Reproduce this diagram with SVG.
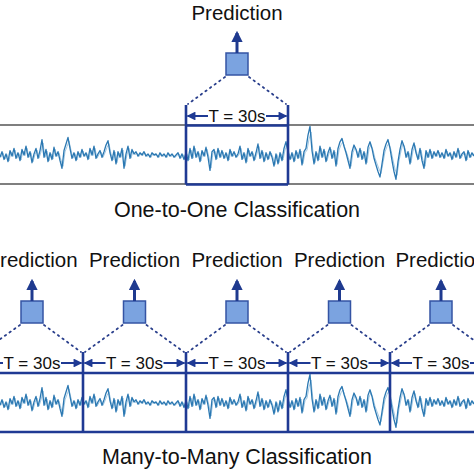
<svg xmlns="http://www.w3.org/2000/svg" xmlns:xlink="http://www.w3.org/1999/xlink" width="474" height="474" viewBox="0 0 474 474">
<style>
.lbl{font-family:"Liberation Sans",Arial,sans-serif;fill:#111;text-anchor:middle}
.pred{font-size:20.5px}
.title{font-size:21.5px}
.tt{font-size:17px}
.box{fill:#7ba3e0;stroke:#3454a4;stroke-width:1.5}
.up{stroke:#1f3a8f;stroke-width:3;fill:none}
.dot{stroke:#2a3f8c;stroke-width:1.8;stroke-dasharray:1.5 4.2;fill:none;stroke-linecap:round}
.frame{stroke:#1f3a94;stroke-width:2.6;fill:none}
.dim{stroke:#1f3a94;stroke-width:2;fill:none}
.gray{stroke:#555;stroke-width:1.4;fill:none}
.eeg{stroke:#2b78b2;stroke-width:1.3;fill:none;stroke-linejoin:round}
.eeg2{stroke:#5a9ccc;stroke-width:1;fill:none;stroke-linejoin:round;opacity:0.6}
</style>
<defs>
<marker id="ah" viewBox="0 0 10 10" refX="9" refY="5" markerWidth="5" markerHeight="4.4" orient="auto" markerUnits="strokeWidth">
<path d="M0,0 L10,5 L0,10 z" fill="#1f3a94"/>
</marker>
<marker id="uh" viewBox="0 0 10 10" refX="8" refY="5" markerWidth="3.8" markerHeight="3.8" orient="auto" markerUnits="strokeWidth">
<path d="M0,0 L10,5 L0,10 z" fill="#1f3a8f"/>
</marker>
<path id="eeg" d="M0,2 L2,-3 4,4 6,-1 8,6 10,-4 12,1 14,-6 16,3 18,-2 20,5 22,-5 24,0 26,-8 28,2 30,-3 32,7 34,-1 36,-6 38,3 40,-4 42,-14 44,2 46,-5 48,6 50,-2 52,4 54,-7 56,1 58,-3 60,5 62,12 64,-4 66,-10 68,-16 70,-6 72,3 74,-2 76,5 78,-3 80,2 82,-5 84,1 86,-2 88,4 90,-6 92,0 94,-8 96,3 98,-1 100,-4 102,2 104,-3 106,-9 108,-13 110,-2 112,5 114,-4 116,8 118,-3 120,2 122,-6 124,12 126,-1 128,-8 130,3 132,-5 134,-1 136,-3 138,1 140,-2 142,0 144,-3 146,1 148,-1 150,2 152,-2 154,0 156,-1 158,2 160,-2 162,1 164,-1 166,2 168,-2 170,1 172,-1 174,2 176,0 178,-2 180,3 182,-1 184,4 186,-2 188,5 190,-6 192,3 194,-8 196,2 198,-3 200,6 202,-4 204,1 206,-7 208,2 210,14 212,-3 214,-5 216,4 218,-6 220,2 222,-4 224,3 226,-2 228,5 230,-5 232,1 234,-3 236,2 238,-1 240,-8 242,4 244,-2 246,7 248,-6 250,1 252,-3 254,5 256,-2 258,-10 260,3 262,-4 264,6 266,-2 268,4 270,-3 272,2 274,10 276,-1 278,8 280,-2 282,5 284,-6 286,-12 288,-3 290,4 292,-2 294,6 296,-4 298,3 300,-5 302,9 304,-3 306,-6 308,-18 310,-26 312,-4 314,8 316,-3 318,5 320,-8 322,2 324,-5 326,6 328,-2 330,-7 332,3 334,-4 336,10 338,-6 340,-12 342,-15 344,-8 346,-2 348,5 350,12 352,-3 354,-9 356,-5 358,2 360,-6 362,4 364,-3 366,8 368,-7 370,-12 372,-6 374,3 376,9 378,15 380,20 382,8 384,-4 386,-10 388,-14 390,-6 392,5 394,15 396,22 398,6 400,-5 402,-13 404,-8 406,2 408,-3 410,8 412,-5 414,-11 416,-2 418,4 420,-6 422,5 424,12 426,-4 428,2 430,-5 432,3 434,-3 436,1 438,-4 440,2 442,-2 444,3 446,-5 448,1 450,-2 452,4 454,-3 456,2 458,-6 460,3 462,-1 464,-3 466,5 468,-4 470,2 472,-2 474,1"/>
</defs>

<!-- ===== One-to-One ===== -->
<g id="signal-top">
<line class="gray" x1="0" y1="125" x2="474" y2="125"/>
<line class="gray" x1="0" y1="184" x2="474" y2="184"/>
<use xlink:href="#eeg" href="#eeg" class="eeg2" transform="translate(1,155.5) scale(1,0.9)"/>
<use xlink:href="#eeg" href="#eeg" class="eeg" transform="translate(0,155) scale(1,1.1)"/>
</g>
<g id="window-top">
<path class="frame" d="M186,105 V184.5 M288,105 V184.5 M186,125.5 H288 M186,184.5 H288"/>
</g>
<g id="pred-top">
<text class="lbl pred" x="237" y="20">Prediction</text>
<rect class="box" x="226" y="53" width="22" height="22"/>
</g>
<g id="connectors-top">
<line class="up" x1="237" y1="53" x2="237" y2="33" marker-end="url(#uh)"/>
<line class="dot" x1="225" y1="77" x2="188" y2="104"/>
<line class="dot" x1="249" y1="77" x2="286" y2="104"/>
<line class="dim" x1="208" y1="116" x2="187.5" y2="116" marker-end="url(#ah)"/>
<line class="dim" x1="266" y1="116" x2="286.5" y2="116" marker-end="url(#ah)"/>
</g>
<text class="lbl tt" x="237" y="122">T = 30s</text>
<text class="lbl title" x="237" y="217">One-to-One Classification</text>

<!-- ===== Many-to-Many ===== -->
<g id="signal-bottom">
<use xlink:href="#eeg" href="#eeg" class="eeg2" transform="translate(1,403.5) scale(1,0.9)"/>
<use xlink:href="#eeg" href="#eeg" class="eeg" transform="translate(0,403) scale(1,1.1)"/>
<path class="frame" d="M0,373 H474 M0,432 H474 M83,352 V432 M186,352 V432 M288,352 V432 M390,352 V432"/>
</g>
<g id="pred-1"><text class="lbl pred" x="32" y="267">Prediction</text><rect class="box" x="21" y="301" width="22" height="22"/></g>
<g id="pred-2"><text class="lbl pred" x="134.5" y="267">Prediction</text><rect class="box" x="123.5" y="301" width="22" height="22"/></g>
<g id="pred-3"><text class="lbl pred" x="237" y="267">Prediction</text><rect class="box" x="226" y="301" width="22" height="22"/></g>
<g id="pred-4"><text class="lbl pred" x="339.5" y="267">Prediction</text><rect class="box" x="328.5" y="301" width="22" height="22"/></g>
<g id="pred-5"><text class="lbl pred" x="441" y="267">Prediction</text><rect class="box" x="430" y="301" width="22" height="22"/></g>
<g id="connectors-bottom">
<line class="up" x1="32" y1="301" x2="32" y2="281" marker-end="url(#uh)"/>
<line class="up" x1="134.5" y1="301" x2="134.5" y2="281" marker-end="url(#uh)"/>
<line class="up" x1="237" y1="301" x2="237" y2="281" marker-end="url(#uh)"/>
<line class="up" x1="339.5" y1="301" x2="339.5" y2="281" marker-end="url(#uh)"/>
<line class="up" x1="441" y1="301" x2="441" y2="281" marker-end="url(#uh)"/>
<line class="dot" x1="20" y1="325" x2="-18" y2="352"/>
<line class="dot" x1="44" y1="325" x2="81" y2="352"/>
<line class="dot" x1="122.5" y1="325" x2="85" y2="352"/>
<line class="dot" x1="146.5" y1="325" x2="184" y2="352"/>
<line class="dot" x1="225" y1="325" x2="188" y2="352"/>
<line class="dot" x1="249" y1="325" x2="286" y2="352"/>
<line class="dot" x1="327.5" y1="325" x2="290" y2="352"/>
<line class="dot" x1="351.5" y1="325" x2="388" y2="352"/>
<line class="dot" x1="429" y1="325" x2="392" y2="352"/>
<line class="dot" x1="453" y1="325" x2="490" y2="352"/>
<line class="dim" x1="3" y1="363" x2="-20" y2="363"/>
<line class="dim" x1="61" y1="363" x2="81.5" y2="363" marker-end="url(#ah)"/>
<line class="dim" x1="105.5" y1="363" x2="84.5" y2="363" marker-end="url(#ah)"/>
<line class="dim" x1="163.5" y1="363" x2="184.5" y2="363" marker-end="url(#ah)"/>
<line class="dim" x1="208" y1="363" x2="187.5" y2="363" marker-end="url(#ah)"/>
<line class="dim" x1="266" y1="363" x2="286.5" y2="363" marker-end="url(#ah)"/>
<line class="dim" x1="310.5" y1="363" x2="289.5" y2="363" marker-end="url(#ah)"/>
<line class="dim" x1="368.5" y1="363" x2="388.5" y2="363" marker-end="url(#ah)"/>
<line class="dim" x1="412" y1="363" x2="391.5" y2="363" marker-end="url(#ah)"/>
<line class="dim" x1="470" y1="363" x2="480" y2="363"/>
</g>
<text class="lbl tt" x="32" y="369">T = 30s</text>
<text class="lbl tt" x="134.5" y="369">T = 30s</text>
<text class="lbl tt" x="237" y="369">T = 30s</text>
<text class="lbl tt" x="339.5" y="369">T = 30s</text>
<text class="lbl tt" x="441" y="369">T = 30s</text>
<text class="lbl title" x="237" y="464">Many-to-Many Classification</text>
</svg>
